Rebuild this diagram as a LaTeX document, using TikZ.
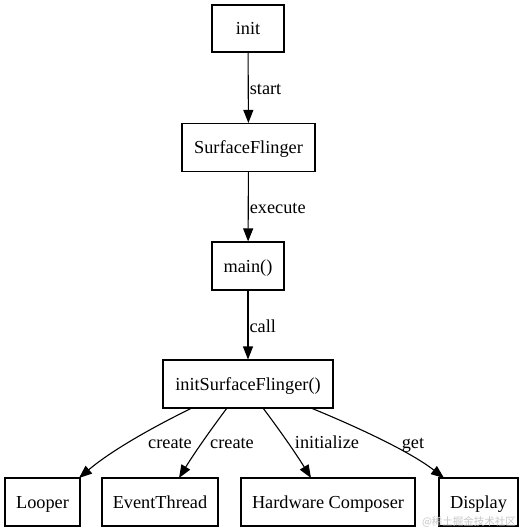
\documentclass[tikz,border=0pt]{standalone}
\usepackage{fontspec}
\setmainfont{Liberation Serif}
\newfontfamily\cjk{Noto Sans CJK SC}
\usetikzlibrary{arrows.meta}
\begin{document}
\begin{tikzpicture}[x=1pt,y=-1pt,
  box/.style={draw,line width=1.1pt,inner sep=0pt,text height=13pt,text depth=1pt,font=\fontsize{18.3}{20}\selectfont},
  conn/.style={line width=1.1pt,-{Triangle[length=13pt,width=10pt]}},
  lbl/.style={inner sep=0pt,text height=13pt,text depth=1pt,font=\fontsize{18.3}{20}\selectfont}]
\useasboundingbox (0,0) rectangle (531,532);
\fill[white] (0,0) rectangle (531,532);
\node[box,minimum width=72pt,minimum height=47pt] (init) at (248,28.5) {init};
\node[box,minimum width=133pt,minimum height=48pt] (sf) at (248.5,147.5) {SurfaceFlinger};
\node[box,minimum width=72pt,minimum height=48pt] (main) at (248,266) {main()};
\node[box,minimum width=170pt,minimum height=48pt] (isf) at (248,384) {initSurfaceFlinger()};
\node[box,minimum width=75pt,minimum height=48pt] (looper) at (42.5,502) {Looper};
\node[box,minimum width=116pt,minimum height=48pt] (et) at (160,502) {EventThread};
\node[box,minimum width=174pt,minimum height=48pt] (hc) at (328,502) {Hardware Composer};
\node[box,minimum width=79pt,minimum height=48pt] (disp) at (478.5,502) {Display};
\draw[conn] (init) -- (sf) node[lbl,midway,anchor=west,xshift=1pt,yshift=-1pt] {start};
\draw[conn] (sf) -- (main) node[lbl,midway,anchor=west,xshift=1pt,yshift=-1pt] {execute};
\draw[conn] (main) -- (isf) node[lbl,midway,anchor=west,xshift=1pt,yshift=-1pt] {call};
\coordinate (s1) at (192,408);
\coordinate (s2) at (227,408);
\coordinate (s3) at (263,408);
\coordinate (s4) at (311,408);
\coordinate (e1) at (79,478);
\coordinate (e2) at (179,478);
\coordinate (e3) at (311,478);
\coordinate (e4) at (444,478);
\draw[conn] (s1) .. controls (155,426) and (112,450) .. (e1);
\draw[conn] (s2) .. controls (212,428) and (195,452) .. (e2);
\draw[conn] (s3) .. controls (278,428) and (295,452) .. (e3);
\draw[conn] (s4) .. controls (350,424) and (408,450) .. (e4);
\node[lbl] (l1) at (170,442) {create};
\node[lbl] (l2) at (232,442) {create};
\node[lbl] (l3) at (327,442) {initialize};
\node[lbl] (l4) at (413,442) {get};
\node[inner sep=0pt,text=black!22,font=\cjk\fontsize{10.5}{12}\selectfont] (wm) at (469,522) {@稀土掘金技术社区};
\end{tikzpicture}
\end{document}
